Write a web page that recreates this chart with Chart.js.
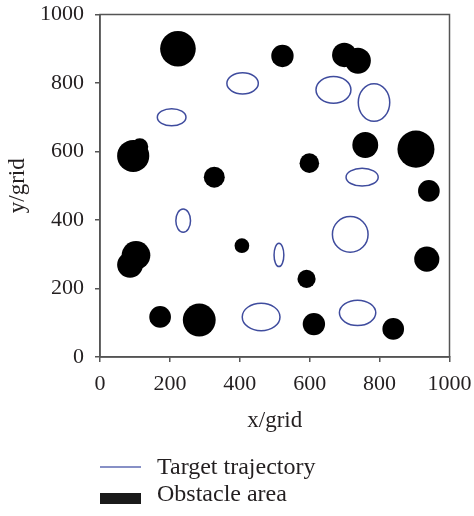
<!DOCTYPE html>
<html>
<head>
<meta charset="utf-8">
<script src="https://cdn.jsdelivr.net/npm/chart.js@4.4.0/dist/chart.umd.min.js"></script>
<style>
  html, body { margin: 0; padding: 0; background: #fff; }
  #wrap { position: relative; width: 474px; height: 516px; }
</style>
</head>
<body>
<div id="wrap"><canvas id="c" width="474" height="516"></canvas></div>
<script>
// Obstacles (black discs): centre and radius, in grid units
const obstacleX = [223, 95, 114, 327, 522, 699, 738, 759, 904, 599, 941, 103, 86, 172, 284, 406, 935, 591, 612, 839];
const obstacleY = [900, 587, 614, 525, 879, 882, 865, 619, 607, 566, 485, 297, 269, 117, 108, 325, 286, 228, 96, 82];
const obstacleR = [51, 46, 24, 30, 32, 35, 37, 37, 53, 28, 31, 41, 37, 31, 47, 21, 36, 26, 32, 31];

// Target trajectories (blue ellipses): centre and half-axes, in grid units
const trajX = [205, 408, 668, 784, 750, 238, 512, 716, 461, 737];
const trajY = [700, 799, 780, 743, 525, 398, 298, 358, 117, 129];
const trajRx = [41, 45, 50, 45, 46, 21, 14, 51, 54, 52];
const trajRy = [25, 31, 39, 55, 26, 34, 34, 52, 40, 37];

const axisTicks = [0, 200, 400, 600, 800, 1000];

const TEXT = '#231f20';
const AXIS = '#555555';
const BLUE = '#3f4c9e';
const FONT = "'Liberation Serif', 'Times New Roman', serif";

// ellipses drawn through the chart scales
const ellipsePlugin = {
  id: 'ellipses',
  afterDatasetsDraw(chart) {
    const xs = chart.scales.x, ys = chart.scales.y;
    const ctx = chart.ctx;
    ctx.save();
    ctx.strokeStyle = BLUE;
    ctx.lineWidth = 1.5;
    trajX.forEach((cx, i) => {
      const px = xs.getPixelForValue(cx);
      const py = ys.getPixelForValue(trajY[i]);
      const rx = Math.abs(xs.getPixelForValue(cx + trajRx[i]) - px);
      const ry = Math.abs(ys.getPixelForValue(trajY[i] + trajRy[i]) - py);
      ctx.beginPath();
      ctx.ellipse(px, py, rx, ry, 0, 0, Math.PI * 2);
      ctx.stroke();
    });
    ctx.restore();
  }
};

// frame around the plot area
const framePlugin = {
  id: 'frame',
  afterDraw(chart) {
    const a = chart.chartArea, ctx = chart.ctx;
    ctx.save();
    ctx.strokeStyle = AXIS;
    ctx.lineWidth = 1.5;
    ctx.strokeRect(a.left, a.top, a.right - a.left, a.bottom - a.top);
    ctx.restore();
  }
};

// stacked legend under the axis title
const legendPlugin = {
  id: 'stackLegend',
  afterDraw(chart) {
    const ctx = chart.ctx;
    ctx.save();
    ctx.font = '24px ' + FONT;
    ctx.fillStyle = TEXT;
    ctx.textBaseline = 'alphabetic';
    ctx.strokeStyle = '#5f6bb3';
    ctx.lineWidth = 1.5;
    ctx.beginPath();
    ctx.moveTo(100, 467);
    ctx.lineTo(141, 467);
    ctx.stroke();
    ctx.fillText('Target trajectory', 157, 474);
    ctx.fillStyle = '#1a1a1a';
    ctx.fillRect(100, 493, 41, 11);
    ctx.fillStyle = TEXT;
    ctx.fillText('Obstacle area', 157, 501);
    ctx.restore();
  }
};

const tickCommon = {
  color: TEXT,
  font: { family: FONT, size: 22 },
  callback: v => String(v)
};

// keep the plot area where the layout padding puts it
const noScalePadding = s => {
  s.paddingTop = 0; s.paddingBottom = 0; s.paddingLeft = 0; s.paddingRight = 0;
};

new Chart(document.getElementById('c'), {
  type: 'scatter',
  data: {
    datasets: [{
      label: 'Obstacle area',
      data: obstacleX.map((x, i) => ({ x: x, y: obstacleY[i] })),
      backgroundColor: '#000000',
      borderWidth: 0,
      pointRadius: ctx => {
        const s = ctx.chart.scales.x;
        return s.getPixelForValue(obstacleR[ctx.dataIndex]) - s.getPixelForValue(0);
      },
      pointHoverRadius: ctx => {
        const s = ctx.chart.scales.x;
        return s.getPixelForValue(obstacleR[ctx.dataIndex]) - s.getPixelForValue(0);
      }
    }, {
      label: 'Target trajectory',
      data: trajX.map((x, i) => ({ x: x, y: trajY[i] })),
      pointRadius: 0,
      pointHoverRadius: 0,
      borderColor: BLUE
    }]
  },
  options: {
    responsive: false,
    animation: false,
    events: [],
    layout: { padding: { left: 0, top: 14.5, right: 24.5, bottom: 81 } },
    scales: {
      x: {
        min: 0, max: 1000,
        afterBuildTicks: s => { s.ticks = axisTicks.map(v => ({ value: v })); },
        afterFit: s => { s.height = 78; noScalePadding(s); },
        grid: { drawOnChartArea: false, drawTicks: true, tickLength: 5, color: AXIS, lineWidth: 1.5 },
        border: { color: AXIS, width: 1.5 },
        ticks: { ...tickCommon, padding: 9, maxRotation: 0 },
        title: { display: true, text: 'x/grid', color: TEXT, font: { family: FONT, size: 23 }, padding: 0 }
      },
      y: {
        min: 0, max: 1000,
        afterBuildTicks: s => { s.ticks = axisTicks.map(v => ({ value: v })); },
        afterFit: s => { s.width = 100; noScalePadding(s); },
        grid: { drawOnChartArea: false, drawTicks: true, tickLength: 5, color: AXIS, lineWidth: 1.5 },
        border: { color: AXIS, width: 1.5 },
        ticks: { ...tickCommon, padding: 11 },
        title: { display: true, text: 'y/grid', color: TEXT, font: { family: FONT, size: 23 }, padding: { top: 4, bottom: 0 } }
      }
    },
    plugins: {
      legend: { display: false },
      tooltip: { enabled: false }
    }
  },
  plugins: [ellipsePlugin, framePlugin, legendPlugin]
});
</script>
</body>
</html>
